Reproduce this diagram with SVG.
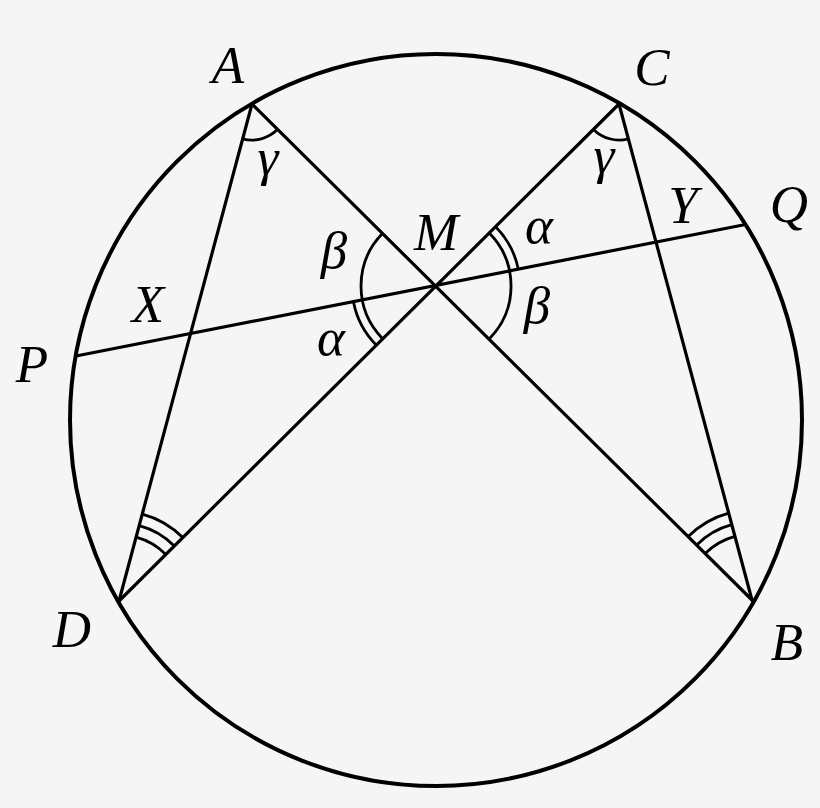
<svg xmlns="http://www.w3.org/2000/svg" width="820" height="808" viewBox="0 0 820 808">
<style>
.bg{fill:#f5f5f5}
.circ{fill:none;stroke:#000;stroke-width:4}
.ln{fill:none;stroke:#000;stroke-width:3.2;stroke-linecap:round}
.arc{fill:none;stroke:#000;stroke-width:2.8}
.lbl{font-family:"Liberation Serif","DejaVu Serif",serif;font-style:italic;font-size:53px;fill:#000;text-anchor:middle}
</style>
<rect class="bg" x="0" y="0" width="820" height="808"/>
<g id="circle"><circle class="circ" cx="436" cy="420" r="366"/></g>
<g id="connectors">
<line class="ln" x1="252" y1="104" x2="752" y2="600"/>
<line class="ln" x1="619" y1="104" x2="119" y2="601"/>
<line class="ln" x1="76" y1="356" x2="743" y2="225"/>
<line class="ln" x1="252" y1="104" x2="119" y2="601"/>
<line class="ln" x1="619" y1="104" x2="752" y2="600"/>
</g>
<g id="angle-marks">
<path class="arc" d="M242.6 138.8 A36 36 0 0 0 277.6 129.3"/>
<path class="arc" d="M593.5 129.4 A36 36 0 0 0 628.3 138.8"/>
<path class="arc" d="M382.7 233.3 A75 75 0 0 0 382.8 338.9"/>
<path class="arc" d="M353.5 302 A84 84 0 0 0 376.4 345.2"/>
<path class="arc" d="M489.2 233.1 A75 75 0 0 1 489.2 338.9"/>
<path class="arc" d="M495.6 226.8 A84 84 0 0 1 518.4 269.6"/>
<path class="arc" d="M136.1 537.2 A66 66 0 0 1 165.8 554.5"/>
<path class="arc" d="M139.2 525.7 A78 78 0 0 1 174.3 546.0"/>
<path class="arc" d="M142.3 514.1 A90 90 0 0 1 182.8 537.6"/>
<path class="arc" d="M705.2 553.5 A66 66 0 0 1 734.9 536.3"/>
<path class="arc" d="M696.7 545.0 A78 78 0 0 1 731.8 524.7"/>
<path class="arc" d="M688.2 536.6 A90 90 0 0 1 728.7 513.1"/>
</g>
<g id="A"><text class="lbl" x="228" y="83" font-family="Liberation Serif">A</text></g>
<g id="C"><text class="lbl" x="652" y="85" font-family="Liberation Serif">C</text></g>
<g id="Q"><text class="lbl" x="789" y="222" font-family="Liberation Serif">Q</text></g>
<g id="Y"><text class="lbl" x="683" y="223" font-family="Liberation Serif">Y</text></g>
<g id="M"><text class="lbl" x="436" y="250" font-family="Liberation Serif">M</text></g>
<g id="X"><text class="lbl" x="148" y="322" font-family="Liberation Serif">X</text></g>
<g id="P"><text class="lbl" x="32" y="382" font-family="Liberation Serif">P</text></g>
<g id="D"><text class="lbl" x="72" y="647" font-family="Liberation Serif">D</text></g>
<g id="B"><text class="lbl" x="787" y="660" font-family="Liberation Serif">B</text></g>
<g id="angle-labels">
<text class="lbl" x="268" y="175">γ</text>
<text class="lbl" x="604" y="173">γ</text>
<text class="lbl" x="539" y="243">α</text>
<text class="lbl" x="334" y="268">β</text>
<text class="lbl" x="331" y="355">α</text>
<text class="lbl" x="537" y="323">β</text>
</g>
</svg>
